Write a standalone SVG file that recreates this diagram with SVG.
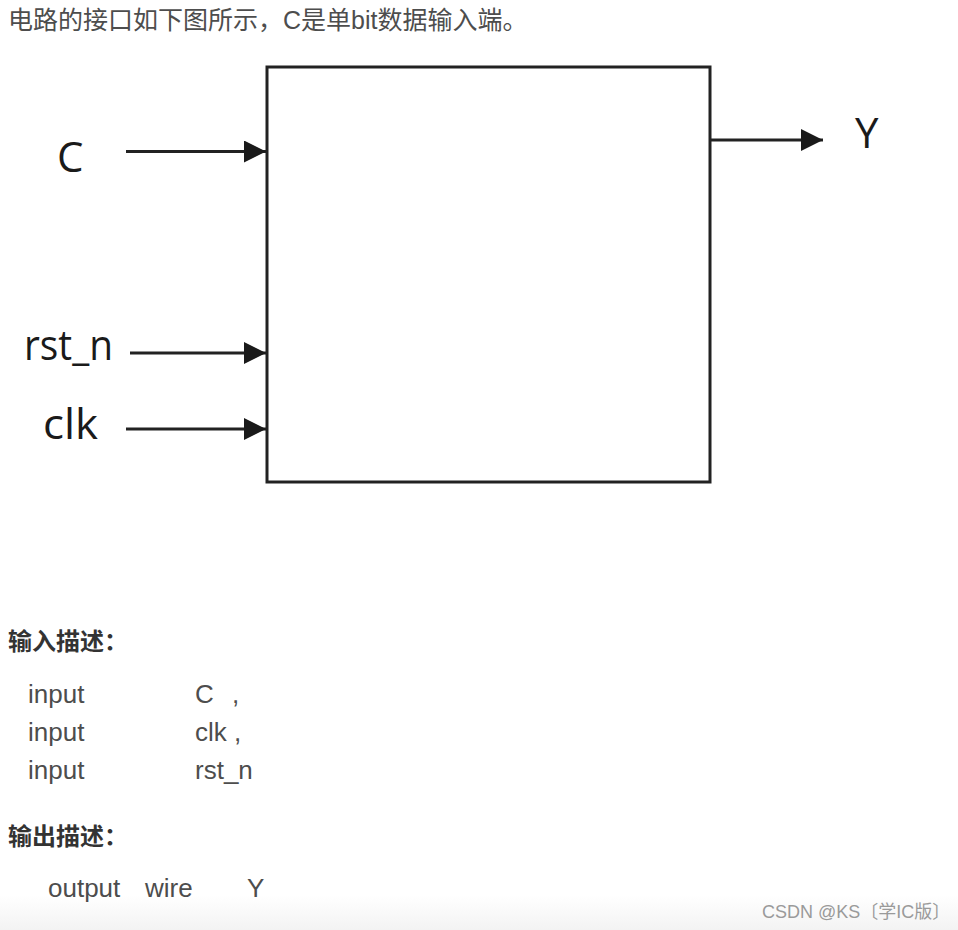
<svg xmlns="http://www.w3.org/2000/svg" width="958" height="930" viewBox="0 0 958 930">
<style>
.body{font-family:"Liberation Sans","Noto Sans CJK SC",sans-serif;fill:#4d4d4d;font-size:26px}
.title{font-family:"Liberation Sans","Noto Sans CJK SC",sans-serif;fill:#4d4d4d;font-size:25px}
.head{font-family:"Liberation Sans","Noto Sans CJK SC",sans-serif;fill:#333;font-size:24px;font-weight:bold}
.lbl{font-family:"Open Sans","Noto Sans",sans-serif;fill:#1a1a1a;font-size:42px}
.wire{stroke:#222;stroke-width:3;fill:none}
.box{stroke:#222;stroke-width:3;fill:#fff}
.wm{font-family:"Liberation Sans","Noto Sans CJK SC",sans-serif;fill:#9a9a9a;font-size:18px}
</style>
<defs>
<marker id="arr" markerWidth="22" markerHeight="22" viewBox="0 0 22 22" refX="22" refY="11" orient="auto" markerUnits="userSpaceOnUse">
<path d="M0,0 L22,11 L0,22 Z" fill="#1a1a1a"/>
</marker>
<linearGradient id="bot" x1="0" y1="0" x2="0" y2="1">
<stop offset="0" stop-color="#ffffff"/>
<stop offset="1" stop-color="#f3f3f3"/>
</linearGradient>
</defs>
<rect x="0" y="0" width="958" height="930" fill="#fff"/>
<rect x="0" y="895" width="958" height="35" fill="url(#bot)"/>
<text class="title" x="8" y="29">电路的接口如下图所示，C是单bit数据输入端。</text>
<g id="block">
<rect class="box" x="267" y="67" width="443" height="415"/>
</g>
<g id="connectors">
<line class="wire" x1="126" y1="151.5" x2="266" y2="151.5" marker-end="url(#arr)"/>
<line class="wire" x1="130" y1="353" x2="266" y2="353" marker-end="url(#arr)"/>
<line class="wire" x1="126" y1="429" x2="266" y2="429" marker-end="url(#arr)"/>
<line class="wire" x1="711" y1="140" x2="823" y2="140" marker-end="url(#arr)"/>
</g>
<g id="label-C"><text class="lbl" x="57" y="172">C</text></g>
<g id="label-rst_n"><text class="lbl" x="24" y="360" textLength="89" lengthAdjust="spacingAndGlyphs">rst_n</text></g>
<g id="label-clk"><text class="lbl" x="43" y="439" textLength="55" lengthAdjust="spacingAndGlyphs">clk</text></g>
<g id="label-Y"><text class="lbl" x="855" y="148">Y</text></g>
<text class="head" x="8" y="650">输入描述：</text>
<text class="body" x="28" y="703">input</text>
<text class="body" x="195" y="703">C</text>
<text class="body" x="232" y="703">,</text>
<text class="body" x="28" y="741">input</text>
<text class="body" x="195" y="741">clk ,</text>
<text class="body" x="28" y="779">input</text>
<text class="body" x="195" y="779">rst_n</text>
<text class="head" x="8" y="845">输出描述：</text>
<text class="body" x="48" y="897">output</text>
<text class="body" x="145" y="897">wire</text>
<text class="body" x="247" y="897">Y</text>
<text class="wm" x="762" y="918">CSDN @KS〔学IC版〕</text>
</svg>
